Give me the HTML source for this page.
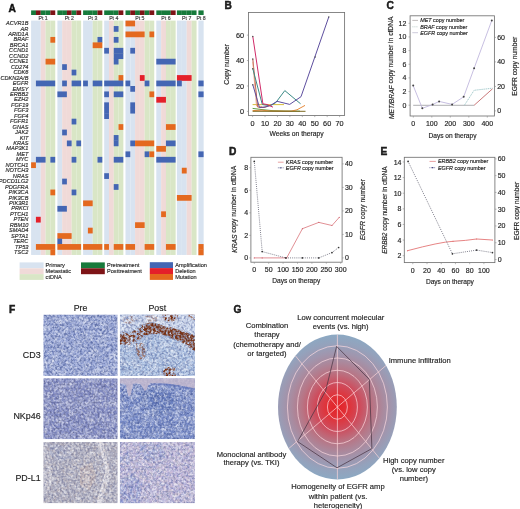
<!DOCTYPE html>
<html><head><meta charset="utf-8"><title>Figure</title>
<style>
html,body{margin:0;padding:0;background:#fff;}
body{width:520px;height:509px;overflow:hidden;}
svg{display:block;font-family:'Liberation Sans', Arial, sans-serif;}
text{stroke:#2a2a2a;stroke-width:0.16px;}
</style></head><body>
<svg width="520" height="509" viewBox="0 0 520 509">
<defs><filter id="fw1" filterUnits="userSpaceOnUse" x="0" y="290" width="215" height="219" color-interpolation-filters="sRGB"><feTurbulence type="fractalNoise" baseFrequency="0.42" numOctaves="2" seed="3" result="n"/><feColorMatrix in="n" type="matrix" values="0 0 0 0 1 0 0 0 0 1 0 0 0 0 1 3.0 0 0 0 -1.2" result="c"/><feGaussianBlur in="c" stdDeviation="0.35" result="cb"/><feComposite in="cb" in2="SourceGraphic" operator="in"/></filter><filter id="fw2" filterUnits="userSpaceOnUse" x="0" y="290" width="215" height="219" color-interpolation-filters="sRGB"><feTurbulence type="fractalNoise" baseFrequency="0.12" numOctaves="3" seed="11" result="n"/><feColorMatrix in="n" type="matrix" values="0 0 0 0 1 0 0 0 0 1 0 0 0 0 1 3.0 0 0 0 -1.3" result="c"/><feGaussianBlur in="c" stdDeviation="0.6" result="cb"/><feComposite in="cb" in2="SourceGraphic" operator="in"/></filter><filter id="fd1" filterUnits="userSpaceOnUse" x="0" y="290" width="215" height="219" color-interpolation-filters="sRGB"><feTurbulence type="fractalNoise" baseFrequency="0.45" numOctaves="2" seed="7" result="n"/><feColorMatrix in="n" type="matrix" values="0 0 0 0 0.2 0 0 0 0 0.27 0 0 0 0 0.52 3.0 0 0 0 -1.3" result="c"/><feGaussianBlur in="c" stdDeviation="0.35" result="cb"/><feComposite in="cb" in2="SourceGraphic" operator="in"/></filter><filter id="fd2" filterUnits="userSpaceOnUse" x="0" y="290" width="215" height="219" color-interpolation-filters="sRGB"><feTurbulence type="fractalNoise" baseFrequency="0.15" numOctaves="3" seed="19" result="n"/><feColorMatrix in="n" type="matrix" values="0 0 0 0 0.3 0 0 0 0 0.36 0 0 0 0 0.6 3.0 0 0 0 -1.35" result="c"/><feGaussianBlur in="c" stdDeviation="0.6" result="cb"/><feComposite in="cb" in2="SourceGraphic" operator="in"/></filter><filter id="fd3" filterUnits="userSpaceOnUse" x="0" y="290" width="215" height="219" color-interpolation-filters="sRGB"><feTurbulence type="fractalNoise" baseFrequency="0.5" numOctaves="2" seed="29" result="n"/><feColorMatrix in="n" type="matrix" values="0 0 0 0 0.3 0 0 0 0 0.32 0 0 0 0 0.5 3.0 0 0 0 -1.3" result="c"/><feGaussianBlur in="c" stdDeviation="0.35" result="cb"/><feComposite in="cb" in2="SourceGraphic" operator="in"/></filter><filter id="fb1" filterUnits="userSpaceOnUse" x="0" y="290" width="215" height="219" color-interpolation-filters="sRGB"><feTurbulence type="fractalNoise" baseFrequency="0.45" numOctaves="2" seed="23" result="n"/><feColorMatrix in="n" type="matrix" values="0 0 0 0 0.47 0 0 0 0 0.18 0 0 0 0 0.06 3.2 0 0 0 -1.25" result="c"/><feGaussianBlur in="c" stdDeviation="0.3" result="cb"/><feComposite in="cb" in2="SourceGraphic" operator="in"/></filter><filter id="fb2" filterUnits="userSpaceOnUse" x="0" y="290" width="215" height="219" color-interpolation-filters="sRGB"><feTurbulence type="fractalNoise" baseFrequency="0.5" numOctaves="2" seed="37" result="n"/><feColorMatrix in="n" type="matrix" values="0 0 0 0 0.45 0 0 0 0 0.17 0 0 0 0 0.05 3.2 0 0 0 -1.2" result="c"/><feGaussianBlur in="c" stdDeviation="0.3" result="cb"/><feComposite in="cb" in2="SourceGraphic" operator="in"/></filter><filter id="ft1" filterUnits="userSpaceOnUse" x="0" y="290" width="215" height="219" color-interpolation-filters="sRGB"><feTurbulence type="fractalNoise" baseFrequency="0.3" numOctaves="2" seed="31" result="n"/><feColorMatrix in="n" type="matrix" values="0 0 0 0 0.76 0 0 0 0 0.7 0 0 0 0 0.68 3.0 0 0 0 -1.25" result="c"/><feGaussianBlur in="c" stdDeviation="0.5" result="cb"/><feComposite in="cb" in2="SourceGraphic" operator="in"/></filter><filter id="fp1" filterUnits="userSpaceOnUse" x="0" y="290" width="215" height="219" color-interpolation-filters="sRGB"><feTurbulence type="fractalNoise" baseFrequency="0.3" numOctaves="2" seed="41" result="n"/><feColorMatrix in="n" type="matrix" values="0 0 0 0 0.85 0 0 0 0 0.75 0 0 0 0 0.85 3.0 0 0 0 -1.2" result="c"/><feGaussianBlur in="c" stdDeviation="0.5" result="cb"/><feComposite in="cb" in2="SourceGraphic" operator="in"/></filter></defs>
<rect width="520" height="509" fill="#fff"/>
<g id="panelA">
<text x="8.6" y="11.6" font-size="10.2" font-weight="bold" fill="#111" style="stroke:#111;stroke-width:0.45px">A</text>
<rect x="31.1" y="20.6" width="4.87" height="234.35" fill="#d8e3f0"/>
<rect x="31.1" y="10.4" width="4.87" height="4.6" fill="#177a3b"/>
<rect x="35.92" y="20.6" width="4.87" height="234.35" fill="#d8e3f0"/>
<rect x="35.92" y="10.4" width="4.87" height="4.6" fill="#7e1417"/>
<rect x="40.74" y="20.6" width="4.87" height="234.35" fill="#f0dad8"/>
<rect x="40.74" y="10.4" width="4.87" height="4.6" fill="#177a3b"/>
<rect x="45.56" y="20.6" width="4.87" height="234.35" fill="#d9e6c6"/>
<rect x="45.56" y="10.4" width="4.87" height="4.6" fill="#177a3b"/>
<rect x="50.38" y="20.6" width="4.87" height="234.35" fill="#d9e6c6"/>
<rect x="50.38" y="10.4" width="4.87" height="4.6" fill="#7e1417"/>
<text x="43.15" y="20.4" font-size="5.2" fill="#555" text-anchor="middle">Pt 1</text>
<rect x="57.4" y="20.6" width="4.79" height="234.35" fill="#d8e3f0"/>
<rect x="57.4" y="10.4" width="4.79" height="4.6" fill="#177a3b"/>
<rect x="62.14" y="20.6" width="4.79" height="234.35" fill="#f0dad8"/>
<rect x="62.14" y="10.4" width="4.79" height="4.6" fill="#177a3b"/>
<rect x="66.88" y="20.6" width="4.79" height="234.35" fill="#f0dad8"/>
<rect x="66.88" y="10.4" width="4.79" height="4.6" fill="#7e1417"/>
<rect x="71.62" y="20.6" width="4.79" height="234.35" fill="#d9e6c6"/>
<rect x="71.62" y="10.4" width="4.79" height="4.6" fill="#177a3b"/>
<rect x="76.36" y="20.6" width="4.79" height="234.35" fill="#d9e6c6"/>
<rect x="76.36" y="10.4" width="4.79" height="4.6" fill="#7e1417"/>
<text x="69.25" y="20.4" font-size="5.2" fill="#555" text-anchor="middle">Pt 2</text>
<rect x="83.1" y="20.6" width="4.85" height="234.35" fill="#d8e3f0"/>
<rect x="83.1" y="10.4" width="4.85" height="4.6" fill="#177a3b"/>
<rect x="87.9" y="20.6" width="4.85" height="234.35" fill="#d8e3f0"/>
<rect x="87.9" y="10.4" width="4.85" height="4.6" fill="#177a3b"/>
<rect x="92.7" y="20.6" width="4.85" height="234.35" fill="#d9e6c6"/>
<rect x="92.7" y="10.4" width="4.85" height="4.6" fill="#177a3b"/>
<rect x="97.5" y="20.6" width="4.85" height="234.35" fill="#d9e6c6"/>
<rect x="97.5" y="10.4" width="4.85" height="4.6" fill="#7e1417"/>
<text x="92.7" y="20.4" font-size="5.2" fill="#555" text-anchor="middle">Pt 3</text>
<rect x="104.2" y="20.6" width="4.82" height="234.35" fill="#d8e3f0"/>
<rect x="104.2" y="10.4" width="4.82" height="4.6" fill="#177a3b"/>
<rect x="108.97" y="20.6" width="4.82" height="234.35" fill="#f0dad8"/>
<rect x="108.97" y="10.4" width="4.82" height="4.6" fill="#177a3b"/>
<rect x="113.75" y="20.6" width="4.82" height="234.35" fill="#d9e6c6"/>
<rect x="113.75" y="10.4" width="4.82" height="4.6" fill="#177a3b"/>
<rect x="118.53" y="20.6" width="4.82" height="234.35" fill="#d9e6c6"/>
<rect x="118.53" y="10.4" width="4.82" height="4.6" fill="#7e1417"/>
<text x="113.75" y="20.4" font-size="5.2" fill="#555" text-anchor="middle">Pt 4</text>
<rect x="125.5" y="20.6" width="4.83" height="234.35" fill="#d8e3f0"/>
<rect x="125.5" y="10.4" width="4.83" height="4.6" fill="#177a3b"/>
<rect x="130.28" y="20.6" width="4.83" height="234.35" fill="#d8e3f0"/>
<rect x="130.28" y="10.4" width="4.83" height="4.6" fill="#7e1417"/>
<rect x="135.07" y="20.6" width="4.83" height="234.35" fill="#f0dad8"/>
<rect x="135.07" y="10.4" width="4.83" height="4.6" fill="#177a3b"/>
<rect x="139.85" y="20.6" width="4.83" height="234.35" fill="#f0dad8"/>
<rect x="139.85" y="10.4" width="4.83" height="4.6" fill="#7e1417"/>
<rect x="144.63" y="20.6" width="4.83" height="234.35" fill="#d9e6c6"/>
<rect x="144.63" y="10.4" width="4.83" height="4.6" fill="#177a3b"/>
<rect x="149.42" y="20.6" width="4.83" height="234.35" fill="#d9e6c6"/>
<rect x="149.42" y="10.4" width="4.83" height="4.6" fill="#7e1417"/>
<text x="139.85" y="20.4" font-size="5.2" fill="#555" text-anchor="middle">Pt 5</text>
<rect x="156.3" y="20.6" width="4.87" height="234.35" fill="#d8e3f0"/>
<rect x="156.3" y="10.4" width="4.87" height="4.6" fill="#177a3b"/>
<rect x="161.12" y="20.6" width="4.87" height="234.35" fill="#f0dad8"/>
<rect x="161.12" y="10.4" width="4.87" height="4.6" fill="#177a3b"/>
<rect x="165.95" y="20.6" width="4.87" height="234.35" fill="#d9e6c6"/>
<rect x="165.95" y="10.4" width="4.87" height="4.6" fill="#177a3b"/>
<rect x="170.78" y="20.6" width="4.87" height="234.35" fill="#d9e6c6"/>
<rect x="170.78" y="10.4" width="4.87" height="4.6" fill="#7e1417"/>
<text x="165.95" y="20.4" font-size="5.2" fill="#555" text-anchor="middle">Pt 6</text>
<rect x="176.9" y="20.6" width="4.95" height="234.35" fill="#d8e3f0"/>
<rect x="176.9" y="10.4" width="4.95" height="4.6" fill="#177a3b"/>
<rect x="181.8" y="20.6" width="4.95" height="234.35" fill="#d8e3f0"/>
<rect x="181.8" y="10.4" width="4.95" height="4.6" fill="#177a3b"/>
<rect x="186.7" y="20.6" width="4.95" height="234.35" fill="#f0dad8"/>
<rect x="186.7" y="10.4" width="4.95" height="4.6" fill="#177a3b"/>
<rect x="191.6" y="20.6" width="4.95" height="234.35" fill="#d9e6c6"/>
<rect x="191.6" y="10.4" width="4.95" height="4.6" fill="#177a3b"/>
<text x="186.7" y="20.4" font-size="5.2" fill="#555" text-anchor="middle">Pt 7</text>
<rect x="198.4" y="20.6" width="5.25" height="234.35" fill="#d8e3f0"/>
<rect x="198.4" y="10.4" width="5.25" height="4.6" fill="#177a3b"/>
<text x="201" y="20.4" font-size="5.2" fill="#555" text-anchor="middle">Pt 8</text>
<rect x="125.5" y="20.6" width="9.57" height="5.75" fill="#e4691f"/>
<rect x="113.75" y="26.05" width="4.78" height="5.75" fill="#4466b3"/>
<rect x="125.5" y="31.5" width="19.13" height="5.75" fill="#e4691f"/>
<rect x="149.42" y="31.5" width="4.78" height="5.75" fill="#e4691f"/>
<rect x="50.38" y="36.95" width="4.82" height="5.75" fill="#e4691f"/>
<rect x="97.5" y="36.95" width="4.8" height="5.75" fill="#4466b3"/>
<rect x="113.75" y="36.95" width="4.78" height="5.75" fill="#4466b3"/>
<rect x="92.7" y="42.4" width="9.6" height="5.75" fill="#e4691f"/>
<rect x="104.2" y="47.85" width="4.77" height="5.75" fill="#4466b3"/>
<rect x="113.75" y="47.85" width="9.55" height="5.75" fill="#4466b3"/>
<rect x="130.28" y="47.85" width="4.78" height="5.75" fill="#4466b3"/>
<rect x="113.75" y="53.3" width="9.55" height="5.75" fill="#4466b3"/>
<rect x="45.56" y="58.75" width="9.64" height="5.75" fill="#e4691f"/>
<rect x="113.75" y="58.75" width="4.78" height="5.75" fill="#4466b3"/>
<rect x="156.3" y="58.75" width="19.3" height="5.75" fill="#4466b3"/>
<rect x="62.14" y="64.2" width="4.74" height="5.75" fill="#4466b3"/>
<rect x="71.62" y="69.65" width="4.74" height="5.75" fill="#4466b3"/>
<rect x="118.53" y="75.1" width="4.77" height="5.75" fill="#e4691f"/>
<rect x="139.85" y="75.1" width="4.78" height="5.75" fill="#e4202a"/>
<rect x="176.9" y="75.1" width="14.7" height="5.75" fill="#e4202a"/>
<rect x="35.92" y="80.55" width="19.28" height="5.75" fill="#4466b3"/>
<rect x="62.14" y="80.55" width="4.74" height="5.75" fill="#4466b3"/>
<rect x="71.62" y="80.55" width="9.48" height="5.75" fill="#4466b3"/>
<rect x="83.1" y="80.55" width="4.8" height="5.75" fill="#4466b3"/>
<rect x="92.7" y="80.55" width="9.6" height="5.75" fill="#4466b3"/>
<rect x="104.2" y="80.55" width="19.1" height="5.75" fill="#4466b3"/>
<rect x="125.5" y="80.55" width="4.78" height="5.75" fill="#4466b3"/>
<rect x="144.63" y="80.55" width="4.78" height="5.75" fill="#4466b3"/>
<rect x="156.3" y="80.55" width="19.3" height="5.75" fill="#4466b3"/>
<rect x="176.9" y="80.55" width="4.9" height="5.75" fill="#4466b3"/>
<rect x="198.4" y="80.55" width="5.2" height="5.75" fill="#4466b3"/>
<rect x="130.28" y="86" width="4.78" height="5.75" fill="#4466b3"/>
<rect x="57.4" y="91.45" width="9.48" height="5.75" fill="#4466b3"/>
<rect x="104.2" y="91.45" width="4.77" height="5.75" fill="#4466b3"/>
<rect x="113.75" y="91.45" width="9.55" height="5.75" fill="#4466b3"/>
<rect x="149.42" y="91.45" width="4.78" height="5.75" fill="#e4691f"/>
<rect x="198.4" y="91.45" width="5.2" height="5.75" fill="#4466b3"/>
<rect x="156.3" y="96.9" width="9.65" height="5.75" fill="#e4202a"/>
<rect x="104.2" y="102.35" width="4.77" height="5.75" fill="#4466b3"/>
<rect x="130.28" y="102.35" width="4.78" height="5.75" fill="#4466b3"/>
<rect x="104.2" y="107.8" width="4.77" height="5.75" fill="#4466b3"/>
<rect x="130.28" y="107.8" width="4.78" height="5.75" fill="#4466b3"/>
<rect x="104.2" y="113.25" width="4.77" height="5.75" fill="#4466b3"/>
<rect x="71.62" y="118.7" width="4.74" height="5.75" fill="#4466b3"/>
<rect x="118.53" y="124.15" width="4.77" height="5.75" fill="#e4691f"/>
<rect x="165.95" y="124.15" width="9.65" height="5.75" fill="#e4691f"/>
<rect x="62.14" y="129.6" width="4.74" height="5.75" fill="#4466b3"/>
<rect x="113.75" y="135.05" width="4.78" height="5.75" fill="#4466b3"/>
<rect x="66.88" y="140.5" width="4.74" height="5.75" fill="#4466b3"/>
<rect x="76.36" y="140.5" width="4.74" height="5.75" fill="#4466b3"/>
<rect x="113.75" y="140.5" width="4.78" height="5.75" fill="#4466b3"/>
<rect x="130.28" y="140.5" width="4.78" height="5.75" fill="#4466b3"/>
<rect x="135.07" y="140.5" width="19.13" height="5.75" fill="#e4691f"/>
<rect x="165.95" y="140.5" width="9.65" height="5.75" fill="#4466b3"/>
<rect x="156.3" y="145.95" width="9.65" height="5.75" fill="#e4691f"/>
<rect x="125.5" y="151.4" width="4.78" height="5.75" fill="#4466b3"/>
<rect x="144.63" y="151.4" width="4.78" height="5.75" fill="#4466b3"/>
<rect x="149.42" y="151.4" width="4.78" height="5.75" fill="#e4691f"/>
<rect x="198.4" y="151.4" width="5.2" height="5.75" fill="#4466b3"/>
<rect x="35.92" y="156.85" width="9.64" height="5.75" fill="#4466b3"/>
<rect x="50.38" y="156.85" width="4.82" height="5.75" fill="#4466b3"/>
<rect x="71.62" y="156.85" width="4.74" height="5.75" fill="#4466b3"/>
<rect x="97.5" y="156.85" width="4.8" height="5.75" fill="#4466b3"/>
<rect x="113.75" y="156.85" width="9.55" height="5.75" fill="#4466b3"/>
<rect x="156.3" y="156.85" width="19.3" height="5.75" fill="#4466b3"/>
<rect x="31.1" y="162.3" width="4.82" height="5.75" fill="#e4691f"/>
<rect x="181.8" y="167.75" width="4.9" height="5.75" fill="#e4691f"/>
<rect x="104.2" y="173.2" width="4.77" height="5.75" fill="#4466b3"/>
<rect x="62.14" y="178.65" width="4.74" height="5.75" fill="#4466b3"/>
<rect x="113.75" y="184.1" width="4.78" height="5.75" fill="#4466b3"/>
<rect x="50.38" y="189.55" width="4.82" height="5.75" fill="#e4691f"/>
<rect x="71.62" y="189.55" width="4.74" height="5.75" fill="#4466b3"/>
<rect x="176.9" y="195" width="14.7" height="5.75" fill="#e4691f"/>
<rect x="83.1" y="200.45" width="9.6" height="5.75" fill="#e4691f"/>
<rect x="57.4" y="205.9" width="9.48" height="5.75" fill="#4466b3"/>
<rect x="161.12" y="211.35" width="4.82" height="5.75" fill="#e4691f"/>
<rect x="35.92" y="216.8" width="4.82" height="5.75" fill="#e4202a"/>
<rect x="135.07" y="222.25" width="9.57" height="5.75" fill="#e4691f"/>
<rect x="87.9" y="227.7" width="4.8" height="5.75" fill="#e4691f"/>
<rect x="57.4" y="233.15" width="14.22" height="5.75" fill="#e4691f"/>
<rect x="57.4" y="238.6" width="4.74" height="5.75" fill="#4466b3"/>
<rect x="35.92" y="244.05" width="19.28" height="5.75" fill="#e4691f"/>
<rect x="57.4" y="244.05" width="23.7" height="5.75" fill="#e4691f"/>
<rect x="83.1" y="244.05" width="19.2" height="5.75" fill="#e4691f"/>
<rect x="104.2" y="244.05" width="4.77" height="5.75" fill="#e4691f"/>
<rect x="113.75" y="244.05" width="9.55" height="5.75" fill="#e4691f"/>
<rect x="125.5" y="244.05" width="9.57" height="5.75" fill="#e4691f"/>
<rect x="144.63" y="244.05" width="9.57" height="5.75" fill="#e4691f"/>
<rect x="165.95" y="244.05" width="9.65" height="5.75" fill="#e4691f"/>
<rect x="198.4" y="244.05" width="5.2" height="5.75" fill="#e4691f"/>
<rect x="50.38" y="249.5" width="4.82" height="5.75" fill="#e4691f"/>
<rect x="198.4" y="249.5" width="5.2" height="5.75" fill="#e4691f"/>
<text x="28.4" y="25.1" font-size="5.6" font-style="italic" fill="#333" text-anchor="end">ACVR1B</text>
<text x="28.4" y="30.55" font-size="5.6" font-style="italic" fill="#333" text-anchor="end">AR</text>
<text x="28.4" y="36" font-size="5.6" font-style="italic" fill="#333" text-anchor="end">ARID1A</text>
<text x="28.4" y="41.45" font-size="5.6" font-style="italic" fill="#333" text-anchor="end">BRAF</text>
<text x="28.4" y="46.9" font-size="5.6" font-style="italic" fill="#333" text-anchor="end">BRCA1</text>
<text x="28.4" y="52.35" font-size="5.6" font-style="italic" fill="#333" text-anchor="end">CCND1</text>
<text x="28.4" y="57.8" font-size="5.6" font-style="italic" fill="#333" text-anchor="end">CCND2</text>
<text x="28.4" y="63.25" font-size="5.6" font-style="italic" fill="#333" text-anchor="end">CCNE1</text>
<text x="28.4" y="68.7" font-size="5.6" font-style="italic" fill="#333" text-anchor="end">CD274</text>
<text x="28.4" y="74.15" font-size="5.6" font-style="italic" fill="#333" text-anchor="end">CDK6</text>
<text x="28.4" y="79.6" font-size="5.6" font-style="italic" fill="#333" text-anchor="end">CDKN2A/B</text>
<text x="28.4" y="85.05" font-size="5.6" font-style="italic" fill="#333" text-anchor="end">EGFR</text>
<text x="28.4" y="90.5" font-size="5.6" font-style="italic" fill="#333" text-anchor="end">EMSY</text>
<text x="28.4" y="95.95" font-size="5.6" font-style="italic" fill="#333" text-anchor="end">ERBB2</text>
<text x="28.4" y="101.4" font-size="5.6" font-style="italic" fill="#333" text-anchor="end">EZH2</text>
<text x="28.4" y="106.85" font-size="5.6" font-style="italic" fill="#333" text-anchor="end">FGF19</text>
<text x="28.4" y="112.3" font-size="5.6" font-style="italic" fill="#333" text-anchor="end">FGF3</text>
<text x="28.4" y="117.75" font-size="5.6" font-style="italic" fill="#333" text-anchor="end">FGF4</text>
<text x="28.4" y="123.2" font-size="5.6" font-style="italic" fill="#333" text-anchor="end">FGFR1</text>
<text x="28.4" y="128.65" font-size="5.6" font-style="italic" fill="#333" text-anchor="end">GNAS</text>
<text x="28.4" y="134.1" font-size="5.6" font-style="italic" fill="#333" text-anchor="end">JAK2</text>
<text x="28.4" y="139.55" font-size="5.6" font-style="italic" fill="#333" text-anchor="end">KIT</text>
<text x="28.4" y="145" font-size="5.6" font-style="italic" fill="#333" text-anchor="end">KRAS</text>
<text x="28.4" y="150.45" font-size="5.6" font-style="italic" fill="#333" text-anchor="end">MAP3K1</text>
<text x="28.4" y="155.9" font-size="5.6" font-style="italic" fill="#333" text-anchor="end">MET</text>
<text x="28.4" y="161.35" font-size="5.6" font-style="italic" fill="#333" text-anchor="end">MYC</text>
<text x="28.4" y="166.8" font-size="5.6" font-style="italic" fill="#333" text-anchor="end">NOTCH1</text>
<text x="28.4" y="172.25" font-size="5.6" font-style="italic" fill="#333" text-anchor="end">NOTCH3</text>
<text x="28.4" y="177.7" font-size="5.6" font-style="italic" fill="#333" text-anchor="end">NRAS</text>
<text x="28.4" y="183.15" font-size="5.6" font-style="italic" fill="#333" text-anchor="end">PDCD1LG2</text>
<text x="28.4" y="188.6" font-size="5.6" font-style="italic" fill="#333" text-anchor="end">PDGFRA</text>
<text x="28.4" y="194.05" font-size="5.6" font-style="italic" fill="#333" text-anchor="end">PIK3CA</text>
<text x="28.4" y="199.5" font-size="5.6" font-style="italic" fill="#333" text-anchor="end">PIK3CB</text>
<text x="28.4" y="204.95" font-size="5.6" font-style="italic" fill="#333" text-anchor="end">PIK3R1</text>
<text x="28.4" y="210.4" font-size="5.6" font-style="italic" fill="#333" text-anchor="end">PRKCI</text>
<text x="28.4" y="215.85" font-size="5.6" font-style="italic" fill="#333" text-anchor="end">PTCH1</text>
<text x="28.4" y="221.3" font-size="5.6" font-style="italic" fill="#333" text-anchor="end">PTEN</text>
<text x="28.4" y="226.75" font-size="5.6" font-style="italic" fill="#333" text-anchor="end">RBM10</text>
<text x="28.4" y="232.2" font-size="5.6" font-style="italic" fill="#333" text-anchor="end">SMAD4</text>
<text x="28.4" y="237.65" font-size="5.6" font-style="italic" fill="#333" text-anchor="end">SPTA1</text>
<text x="28.4" y="243.1" font-size="5.6" font-style="italic" fill="#333" text-anchor="end">TERC</text>
<text x="28.4" y="248.55" font-size="5.6" font-style="italic" fill="#333" text-anchor="end">TP53</text>
<text x="28.4" y="254" font-size="5.6" font-style="italic" fill="#333" text-anchor="end">TSC2</text>
<rect x="19.6" y="262.4" width="24" height="5.9" fill="#d8e3f0"/>
<rect x="19.6" y="268.3" width="24" height="5.8" fill="#f0dad8"/>
<rect x="19.6" y="274.1" width="24" height="5.8" fill="#d9e6c6"/>
<rect x="81" y="262.4" width="23.8" height="5.9" fill="#177a3b"/>
<rect x="81" y="268.3" width="23.8" height="5.9" fill="#7e1417"/>
<rect x="149.8" y="262.2" width="23.2" height="5.9" fill="#4466b3"/>
<rect x="149.8" y="268.1" width="23.2" height="5.9" fill="#e4202a"/>
<rect x="149.8" y="274" width="23.2" height="5.9" fill="#e4691f"/>
<text x="45.6" y="267.4" font-size="5.6" fill="#333">Primary</text>
<text x="45.6" y="273.2" font-size="5.6" fill="#333">Metastatic</text>
<text x="45.6" y="279.0" font-size="5.6" fill="#333">ctDNA</text>
<text x="107" y="267.4" font-size="5.6" fill="#333">Pretreatment</text>
<text x="107" y="273.2" font-size="5.6" fill="#333">Posttreatment</text>
<text x="175.2" y="267.4" font-size="5.6" fill="#333">Amplification</text>
<text x="175.2" y="273.2" font-size="5.6" fill="#333">Deletion</text>
<text x="175.2" y="279.0" font-size="5.6" fill="#333">Mutation</text>
</g>
<g id="panelB">
<text x="224.4" y="9.3" font-size="10.2" fill="#222" text-anchor="start" font-weight="bold" fill="#111" style="stroke:#111;stroke-width:0.45px">B</text>
<rect x="248.5" y="12.5" width="96.1" height="103" fill="none" stroke="#727272" stroke-width="0.85"/>
<line x1="246.9" y1="111.4" x2="248.5" y2="111.4" stroke="#8a8a8a" stroke-width="0.6"/>
<text x="244.1" y="114.03" font-size="7.3" fill="#222" text-anchor="end" >0</text>
<line x1="246.9" y1="85.97" x2="248.5" y2="85.97" stroke="#8a8a8a" stroke-width="0.6"/>
<text x="244.1" y="88.6" font-size="7.3" fill="#222" text-anchor="end" >20</text>
<line x1="246.9" y1="60.54" x2="248.5" y2="60.54" stroke="#8a8a8a" stroke-width="0.6"/>
<text x="244.1" y="63.17" font-size="7.3" fill="#222" text-anchor="end" >40</text>
<line x1="246.9" y1="35.11" x2="248.5" y2="35.11" stroke="#8a8a8a" stroke-width="0.6"/>
<text x="244.1" y="37.74" font-size="7.3" fill="#222" text-anchor="end" >60</text>
<line x1="252.6" y1="115.5" x2="252.6" y2="117.1" stroke="#8a8a8a" stroke-width="0.6"/>
<text x="252.6" y="125.9" font-size="7.3" fill="#222" text-anchor="middle" >0</text>
<line x1="265.03" y1="115.5" x2="265.03" y2="117.1" stroke="#8a8a8a" stroke-width="0.6"/>
<text x="265.03" y="125.9" font-size="7.3" fill="#222" text-anchor="middle" >10</text>
<line x1="277.46" y1="115.5" x2="277.46" y2="117.1" stroke="#8a8a8a" stroke-width="0.6"/>
<text x="277.46" y="125.9" font-size="7.3" fill="#222" text-anchor="middle" >20</text>
<line x1="289.89" y1="115.5" x2="289.89" y2="117.1" stroke="#8a8a8a" stroke-width="0.6"/>
<text x="289.89" y="125.9" font-size="7.3" fill="#222" text-anchor="middle" >30</text>
<line x1="302.32" y1="115.5" x2="302.32" y2="117.1" stroke="#8a8a8a" stroke-width="0.6"/>
<text x="302.32" y="125.9" font-size="7.3" fill="#222" text-anchor="middle" >40</text>
<line x1="314.75" y1="115.5" x2="314.75" y2="117.1" stroke="#8a8a8a" stroke-width="0.6"/>
<text x="314.75" y="125.9" font-size="7.3" fill="#222" text-anchor="middle" >50</text>
<line x1="327.18" y1="115.5" x2="327.18" y2="117.1" stroke="#8a8a8a" stroke-width="0.6"/>
<text x="327.18" y="125.9" font-size="7.3" fill="#222" text-anchor="middle" >60</text>
<line x1="339.61" y1="115.5" x2="339.61" y2="117.1" stroke="#8a8a8a" stroke-width="0.6"/>
<text x="339.61" y="125.9" font-size="7.3" fill="#222" text-anchor="middle" >70</text>
<text x="296.6" y="135.9" font-size="6.75" fill="#222" text-anchor="middle" >Weeks on therapy</text>
<text x="226.9" y="64.3" font-size="6.8" fill="#222" text-anchor="middle" dominant-baseline="central" transform="rotate(-90 226.9 64.3)">Copy number</text>
<polyline points="252.6,108.4 262,109.6 272,110.6 285,111 300,111.2" fill="none" stroke="#5f9a44" stroke-width="1.0" stroke-linejoin="round" stroke-linecap="butt"/>
<polyline points="252.6,104.6 284,104.6" fill="none" stroke="#d8be3c" stroke-width="1.0" stroke-linejoin="round" stroke-linecap="butt"/>
<polyline points="252.6,110.6 262,110.2 270,111 291,111.2 297,109.8 305,105.4" fill="none" stroke="#e58a3c" stroke-width="1.0" stroke-linejoin="round" stroke-linecap="butt"/>
<polyline points="252.6,111.3 305.5,111.3" fill="none" stroke="#7d6a22" stroke-width="1.0" stroke-linejoin="round" stroke-linecap="butt"/>
<polyline points="252.8,59 257.6,107 264,107.5 270,105.5" fill="none" stroke="#b4584a" stroke-width="1.0" stroke-linejoin="round" stroke-linecap="butt"/>
<polyline points="252.8,62 256.5,106 262,106.5" fill="none" stroke="#e99a7a" stroke-width="0.8" stroke-linejoin="round" stroke-linecap="butt"/>
<polyline points="252.8,68.7 262.3,104.5 270.2,105.8 275.8,102.6 284.8,90.6 300.6,103.8" fill="none" stroke="#3b8b87" stroke-width="1.0" stroke-linejoin="round" stroke-linecap="butt"/>
<polyline points="252.8,84.8 259.5,107.6 266,106.8 271.2,105 277,101.3 289.7,104.4 301,96.7 328.8,16.9" fill="none" stroke="#5e4f9f" stroke-width="1.0" stroke-linejoin="round" stroke-linecap="butt"/>
<polyline points="252.8,36.5 262.9,103.8 267,104.5 273,107.2" fill="none" stroke="#d02b68" stroke-width="1.0" stroke-linejoin="round" stroke-linecap="butt"/>
<circle cx="252.8" cy="36.5" r="0.7" fill="#444"/>
<circle cx="252.8" cy="59" r="0.7" fill="#444"/>
<circle cx="252.8" cy="68.7" r="0.7" fill="#444"/>
<circle cx="252.8" cy="84.8" r="0.7" fill="#444"/>
<circle cx="328.8" cy="16.9" r="0.7" fill="#444"/>
<circle cx="315.2" cy="57" r="0.7" fill="#444"/>
</g>
<g id="panelC">
<text x="386.5" y="9.1" font-size="10.2" fill="#222" text-anchor="start" font-weight="bold" fill="#111" style="stroke:#111;stroke-width:0.45px">C</text>
<rect x="410.1" y="15.8" width="84.3" height="100.2" fill="none" stroke="#727272" stroke-width="0.85"/>
<line x1="408.5" y1="105.2" x2="410.1" y2="105.2" stroke="#8a8a8a" stroke-width="0.6"/>
<text x="406.4" y="107.72" font-size="7.0" fill="#222" text-anchor="end" >0</text>
<line x1="408.5" y1="91.55" x2="410.1" y2="91.55" stroke="#8a8a8a" stroke-width="0.6"/>
<text x="406.4" y="94.07" font-size="7.0" fill="#222" text-anchor="end" >2</text>
<line x1="408.5" y1="77.9" x2="410.1" y2="77.9" stroke="#8a8a8a" stroke-width="0.6"/>
<text x="406.4" y="80.42" font-size="7.0" fill="#222" text-anchor="end" >4</text>
<line x1="408.5" y1="64.25" x2="410.1" y2="64.25" stroke="#8a8a8a" stroke-width="0.6"/>
<text x="406.4" y="66.77" font-size="7.0" fill="#222" text-anchor="end" >6</text>
<line x1="408.5" y1="50.6" x2="410.1" y2="50.6" stroke="#8a8a8a" stroke-width="0.6"/>
<text x="406.4" y="53.12" font-size="7.0" fill="#222" text-anchor="end" >8</text>
<line x1="408.5" y1="36.95" x2="410.1" y2="36.95" stroke="#8a8a8a" stroke-width="0.6"/>
<text x="406.4" y="39.47" font-size="7.0" fill="#222" text-anchor="end" >10</text>
<line x1="408.5" y1="23.3" x2="410.1" y2="23.3" stroke="#8a8a8a" stroke-width="0.6"/>
<text x="406.4" y="25.82" font-size="7.0" fill="#222" text-anchor="end" >12</text>
<line x1="494.4" y1="110.9" x2="496" y2="110.9" stroke="#8a8a8a" stroke-width="0.6"/>
<text x="497.2" y="113.42" font-size="7.0" fill="#222" text-anchor="start" >0</text>
<line x1="494.4" y1="86.4" x2="496" y2="86.4" stroke="#8a8a8a" stroke-width="0.6"/>
<text x="497.2" y="88.92" font-size="7.0" fill="#222" text-anchor="start" >20</text>
<line x1="494.4" y1="61.9" x2="496" y2="61.9" stroke="#8a8a8a" stroke-width="0.6"/>
<text x="497.2" y="64.42" font-size="7.0" fill="#222" text-anchor="start" >40</text>
<line x1="494.4" y1="37.4" x2="496" y2="37.4" stroke="#8a8a8a" stroke-width="0.6"/>
<text x="497.2" y="39.92" font-size="7.0" fill="#222" text-anchor="start" >60</text>
<line x1="413.3" y1="116" x2="413.3" y2="117.6" stroke="#8a8a8a" stroke-width="0.6"/>
<text x="413.3" y="126.2" font-size="7.0" fill="#222" text-anchor="middle" >0</text>
<line x1="431.8" y1="116" x2="431.8" y2="117.6" stroke="#8a8a8a" stroke-width="0.6"/>
<text x="431.8" y="126.2" font-size="7.0" fill="#222" text-anchor="middle" >100</text>
<line x1="450.3" y1="116" x2="450.3" y2="117.6" stroke="#8a8a8a" stroke-width="0.6"/>
<text x="450.3" y="126.2" font-size="7.0" fill="#222" text-anchor="middle" >200</text>
<line x1="468.8" y1="116" x2="468.8" y2="117.6" stroke="#8a8a8a" stroke-width="0.6"/>
<text x="468.8" y="126.2" font-size="7.0" fill="#222" text-anchor="middle" >300</text>
<line x1="487.3" y1="116" x2="487.3" y2="117.6" stroke="#8a8a8a" stroke-width="0.6"/>
<text x="487.3" y="126.2" font-size="7.0" fill="#222" text-anchor="middle" >400</text>
<text x="452.5" y="137.9" font-size="6.6" fill="#222" text-anchor="middle" >Days on therapy</text>
<text x="390.8" y="67.8" font-size="6.7" fill="#222" text-anchor="middle" dominant-baseline="central" transform="rotate(-90 390.8 67.8)"><tspan font-style="italic">MET/BRAF</tspan> copy number in cfDNA</text>
<text x="514.8" y="66.2" font-size="6.7" fill="#222" text-anchor="middle" dominant-baseline="central" transform="rotate(-90 514.8 66.2)">EGFR copy number</text>
<polyline points="412.3,20.4 418,20.4" fill="none" stroke="#a8a0a0" stroke-width="0.7" stroke-linejoin="round" stroke-linecap="butt"/>
<polyline points="412.3,26.8 418,26.8" fill="none" stroke="#b0c4c0" stroke-width="0.7" stroke-dasharray="1.2,0.8" stroke-linejoin="round" stroke-linecap="butt"/>
<polyline points="412.3,32.7 418,32.7" fill="none" stroke="#b8b4cc" stroke-width="0.7" stroke-linejoin="round" stroke-linecap="butt"/>
<text x="420.2" y="22.3" font-size="5.4" fill="#222"><tspan font-style="italic">MET</tspan> copy number</text>
<text x="420.2" y="28.7" font-size="5.4" fill="#222"><tspan font-style="italic">BRAF</tspan> copy number</text>
<text x="420.2" y="34.6" font-size="5.4" fill="#222"><tspan font-style="italic">EGFR</tspan> copy number</text>
<polyline points="413.2,105.3 474.1,105.3" fill="none" stroke="#9a9a9e" stroke-width="0.8" stroke-linejoin="round" stroke-linecap="butt"/>
<polyline points="474.1,105.3 492.5,88.8" fill="none" stroke="#c06062" stroke-width="0.85" stroke-linejoin="round" stroke-linecap="butt"/>
<polyline points="464.4,105.3 474.1,90.3 492.5,88.2" fill="none" stroke="#96c2c4" stroke-width="0.85" stroke-dasharray="1.4,0.7" stroke-linejoin="round" stroke-linecap="butt"/>
<polyline points="413.2,85.6 422.3,108.3 432.6,104.6 439.1,101.4 452.1,104.4 463.7,96.8 474.1,68.3 491.8,20.4" fill="none" stroke="#bdb3dc" stroke-width="0.85" stroke-linejoin="round" stroke-linecap="butt"/>
<circle cx="413.2" cy="85.6" r="1.0" fill="#444"/>
<circle cx="422.3" cy="108.3" r="1.0" fill="#444"/>
<circle cx="432.6" cy="104.6" r="1.0" fill="#444"/>
<circle cx="439.1" cy="101.4" r="1.0" fill="#444"/>
<circle cx="452.1" cy="104.4" r="1.0" fill="#444"/>
<circle cx="463.7" cy="96.8" r="1.0" fill="#444"/>
<circle cx="474.1" cy="68.3" r="1.0" fill="#444"/>
<circle cx="491.8" cy="20.4" r="1.0" fill="#444"/>
</g>
<g id="panelD">
<text x="229" y="155.3" font-size="10.2" fill="#222" text-anchor="start" font-weight="bold" fill="#111" style="stroke:#111;stroke-width:0.45px">D</text>
<rect x="250.9" y="157.3" width="91.2" height="104.9" fill="none" stroke="#727272" stroke-width="0.85"/>
<line x1="249.3" y1="257.9" x2="250.9" y2="257.9" stroke="#8a8a8a" stroke-width="0.6"/>
<text x="248.1" y="260.42" font-size="7.0" fill="#222" text-anchor="end" >0</text>
<line x1="249.3" y1="235.35" x2="250.9" y2="235.35" stroke="#8a8a8a" stroke-width="0.6"/>
<text x="248.1" y="237.87" font-size="7.0" fill="#222" text-anchor="end" >2</text>
<line x1="249.3" y1="212.8" x2="250.9" y2="212.8" stroke="#8a8a8a" stroke-width="0.6"/>
<text x="248.1" y="215.32" font-size="7.0" fill="#222" text-anchor="end" >4</text>
<line x1="249.3" y1="190.25" x2="250.9" y2="190.25" stroke="#8a8a8a" stroke-width="0.6"/>
<text x="248.1" y="192.77" font-size="7.0" fill="#222" text-anchor="end" >6</text>
<line x1="249.3" y1="167.7" x2="250.9" y2="167.7" stroke="#8a8a8a" stroke-width="0.6"/>
<text x="248.1" y="170.22" font-size="7.0" fill="#222" text-anchor="end" >8</text>
<line x1="342.1" y1="257.9" x2="343.7" y2="257.9" stroke="#8a8a8a" stroke-width="0.6"/>
<text x="344.9" y="260.42" font-size="7.0" fill="#222" text-anchor="start" >0</text>
<line x1="342.1" y1="234.4" x2="343.7" y2="234.4" stroke="#8a8a8a" stroke-width="0.6"/>
<text x="344.9" y="236.92" font-size="7.0" fill="#222" text-anchor="start" >10</text>
<line x1="342.1" y1="210.9" x2="343.7" y2="210.9" stroke="#8a8a8a" stroke-width="0.6"/>
<text x="344.9" y="213.42" font-size="7.0" fill="#222" text-anchor="start" >20</text>
<line x1="342.1" y1="187.4" x2="343.7" y2="187.4" stroke="#8a8a8a" stroke-width="0.6"/>
<text x="344.9" y="189.92" font-size="7.0" fill="#222" text-anchor="start" >30</text>
<line x1="342.1" y1="163.9" x2="343.7" y2="163.9" stroke="#8a8a8a" stroke-width="0.6"/>
<text x="344.9" y="166.42" font-size="7.0" fill="#222" text-anchor="start" >40</text>
<line x1="254.3" y1="262.2" x2="254.3" y2="263.8" stroke="#8a8a8a" stroke-width="0.6"/>
<text x="254.3" y="272.1" font-size="7.0" fill="#222" text-anchor="middle" >0</text>
<line x1="268.7" y1="262.2" x2="268.7" y2="263.8" stroke="#8a8a8a" stroke-width="0.6"/>
<text x="268.7" y="272.1" font-size="7.0" fill="#222" text-anchor="middle" >50</text>
<line x1="283.1" y1="262.2" x2="283.1" y2="263.8" stroke="#8a8a8a" stroke-width="0.6"/>
<text x="283.1" y="272.1" font-size="7.0" fill="#222" text-anchor="middle" >100</text>
<line x1="297.5" y1="262.2" x2="297.5" y2="263.8" stroke="#8a8a8a" stroke-width="0.6"/>
<text x="297.5" y="272.1" font-size="7.0" fill="#222" text-anchor="middle" >150</text>
<line x1="311.9" y1="262.2" x2="311.9" y2="263.8" stroke="#8a8a8a" stroke-width="0.6"/>
<text x="311.9" y="272.1" font-size="7.0" fill="#222" text-anchor="middle" >200</text>
<line x1="326.3" y1="262.2" x2="326.3" y2="263.8" stroke="#8a8a8a" stroke-width="0.6"/>
<text x="326.3" y="272.1" font-size="7.0" fill="#222" text-anchor="middle" >250</text>
<line x1="340.7" y1="262.2" x2="340.7" y2="263.8" stroke="#8a8a8a" stroke-width="0.6"/>
<text x="340.7" y="272.1" font-size="7.0" fill="#222" text-anchor="middle" >300</text>
<text x="296.25" y="283.2" font-size="6.6" fill="#222" text-anchor="middle" >Days on therapy</text>
<text x="234" y="209.3" font-size="6.7" fill="#222" text-anchor="middle" dominant-baseline="central" transform="rotate(-90 234 209.3)"><tspan font-style="italic">KRAS</tspan> copy number in cfDNA</text>
<text x="362.4" y="209.7" font-size="6.95" fill="#222" text-anchor="middle" dominant-baseline="central" transform="rotate(-90 362.4 209.7)"><tspan font-style="italic">EGFR</tspan> copy number</text>
<polyline points="277.9,162.2 283.6,162.2" fill="none" stroke="#e07878" stroke-width="0.7" stroke-linejoin="round" stroke-linecap="butt"/>
<polyline points="277.9,167.8 283.6,167.8" fill="none" stroke="#2f3070" stroke-width="0.7" stroke-dasharray="0.8,0.8" stroke-linejoin="round" stroke-linecap="butt"/>
<circle cx="280.7" cy="167.8" r="0.6" fill="#2f3070"/>
<text x="285.8" y="164.1" font-size="5.4" fill="#222"><tspan font-style="italic">KRAS</tspan> copy number</text>
<text x="285.8" y="169.7" font-size="5.4" fill="#222"><tspan font-style="italic">EGFR</tspan> copy number</text>
<polyline points="254.3,257.9 262.2,257.9 286.7,257.9 302.4,228.7 318.8,222.4 332,225.5 339.2,217.4" fill="none" stroke="#dc7c82" stroke-width="0.85" stroke-linejoin="round" stroke-linecap="butt"/>
<circle cx="254.3" cy="257.9" r="0.6" fill="#d06470"/>
<circle cx="262.2" cy="257.9" r="0.6" fill="#d06470"/>
<circle cx="286.7" cy="257.9" r="0.6" fill="#d06470"/>
<circle cx="302.4" cy="228.7" r="0.6" fill="#d06470"/>
<circle cx="318.8" cy="222.4" r="0.6" fill="#d06470"/>
<circle cx="332" cy="225.5" r="0.6" fill="#d06470"/>
<circle cx="339.2" cy="217.4" r="0.6" fill="#d06470"/>
<polyline points="254.3,161.4 262.2,251.6 285.8,257.9 302.4,257.9 318.8,257.9 332,252.6 338.6,247.5" fill="none" stroke="#5a5a6a" stroke-width="0.85" stroke-dasharray="0.1,2.0" stroke-linejoin="round" stroke-linecap="round"/>
<circle cx="254.3" cy="161.4" r="0.85" fill="#333"/>
<circle cx="262.2" cy="251.6" r="0.85" fill="#333"/>
<circle cx="285.8" cy="257.9" r="0.85" fill="#333"/>
<circle cx="302.4" cy="257.9" r="0.85" fill="#333"/>
<circle cx="318.8" cy="257.9" r="0.85" fill="#333"/>
<circle cx="332" cy="252.6" r="0.85" fill="#333"/>
<circle cx="338.6" cy="247.5" r="0.85" fill="#333"/>
</g>
<g id="panelE">
<text x="380.6" y="155.2" font-size="10.2" fill="#222" text-anchor="start" font-weight="bold" fill="#111" style="stroke:#111;stroke-width:0.45px">E</text>
<rect x="404.3" y="157.3" width="90.6" height="105.3" fill="none" stroke="#727272" stroke-width="0.85"/>
<line x1="402.7" y1="255.7" x2="404.3" y2="255.7" stroke="#8a8a8a" stroke-width="0.6"/>
<text x="401.5" y="258.22" font-size="7.0" fill="#222" text-anchor="end" >2</text>
<line x1="402.7" y1="240.08" x2="404.3" y2="240.08" stroke="#8a8a8a" stroke-width="0.6"/>
<text x="401.5" y="242.6" font-size="7.0" fill="#222" text-anchor="end" >4</text>
<line x1="402.7" y1="224.46" x2="404.3" y2="224.46" stroke="#8a8a8a" stroke-width="0.6"/>
<text x="401.5" y="226.98" font-size="7.0" fill="#222" text-anchor="end" >6</text>
<line x1="402.7" y1="208.84" x2="404.3" y2="208.84" stroke="#8a8a8a" stroke-width="0.6"/>
<text x="401.5" y="211.36" font-size="7.0" fill="#222" text-anchor="end" >8</text>
<line x1="402.7" y1="193.22" x2="404.3" y2="193.22" stroke="#8a8a8a" stroke-width="0.6"/>
<text x="401.5" y="195.74" font-size="7.0" fill="#222" text-anchor="end" >10</text>
<line x1="402.7" y1="177.6" x2="404.3" y2="177.6" stroke="#8a8a8a" stroke-width="0.6"/>
<text x="401.5" y="180.12" font-size="7.0" fill="#222" text-anchor="end" >12</text>
<line x1="402.7" y1="161.98" x2="404.3" y2="161.98" stroke="#8a8a8a" stroke-width="0.6"/>
<text x="401.5" y="164.5" font-size="7.0" fill="#222" text-anchor="end" >14</text>
<line x1="494.9" y1="259.5" x2="496.5" y2="259.5" stroke="#8a8a8a" stroke-width="0.6"/>
<text x="497.7" y="262.02" font-size="7.0" fill="#222" text-anchor="start" >0</text>
<line x1="494.9" y1="242.73" x2="496.5" y2="242.73" stroke="#8a8a8a" stroke-width="0.6"/>
<text x="497.7" y="245.25" font-size="7.0" fill="#222" text-anchor="start" >10</text>
<line x1="494.9" y1="225.96" x2="496.5" y2="225.96" stroke="#8a8a8a" stroke-width="0.6"/>
<text x="497.7" y="228.48" font-size="7.0" fill="#222" text-anchor="start" >20</text>
<line x1="494.9" y1="209.19" x2="496.5" y2="209.19" stroke="#8a8a8a" stroke-width="0.6"/>
<text x="497.7" y="211.71" font-size="7.0" fill="#222" text-anchor="start" >30</text>
<line x1="494.9" y1="192.42" x2="496.5" y2="192.42" stroke="#8a8a8a" stroke-width="0.6"/>
<text x="497.7" y="194.94" font-size="7.0" fill="#222" text-anchor="start" >40</text>
<line x1="494.9" y1="175.65" x2="496.5" y2="175.65" stroke="#8a8a8a" stroke-width="0.6"/>
<text x="497.7" y="178.17" font-size="7.0" fill="#222" text-anchor="start" >50</text>
<line x1="494.9" y1="158.88" x2="496.5" y2="158.88" stroke="#8a8a8a" stroke-width="0.6"/>
<text x="497.7" y="161.4" font-size="7.0" fill="#222" text-anchor="start" >60</text>
<line x1="412.8" y1="262.6" x2="412.8" y2="264.2" stroke="#8a8a8a" stroke-width="0.6"/>
<text x="412.8" y="272.9" font-size="7.0" fill="#222" text-anchor="middle" >0</text>
<line x1="427.02" y1="262.6" x2="427.02" y2="264.2" stroke="#8a8a8a" stroke-width="0.6"/>
<text x="427.02" y="272.9" font-size="7.0" fill="#222" text-anchor="middle" >20</text>
<line x1="441.24" y1="262.6" x2="441.24" y2="264.2" stroke="#8a8a8a" stroke-width="0.6"/>
<text x="441.24" y="272.9" font-size="7.0" fill="#222" text-anchor="middle" >40</text>
<line x1="455.46" y1="262.6" x2="455.46" y2="264.2" stroke="#8a8a8a" stroke-width="0.6"/>
<text x="455.46" y="272.9" font-size="7.0" fill="#222" text-anchor="middle" >60</text>
<line x1="469.68" y1="262.6" x2="469.68" y2="264.2" stroke="#8a8a8a" stroke-width="0.6"/>
<text x="469.68" y="272.9" font-size="7.0" fill="#222" text-anchor="middle" >80</text>
<line x1="483.9" y1="262.6" x2="483.9" y2="264.2" stroke="#8a8a8a" stroke-width="0.6"/>
<text x="483.9" y="272.9" font-size="7.0" fill="#222" text-anchor="middle" >100</text>
<text x="449.9" y="284.2" font-size="6.6" fill="#222" text-anchor="middle" >Days on therapy</text>
<text x="384.4" y="210.1" font-size="6.45" fill="#222" text-anchor="middle" dominant-baseline="central" transform="rotate(-90 384.4 210.1)"><tspan font-style="italic">ERBB2</tspan> copy number in cfDNA</text>
<text x="516.6" y="210.8" font-size="6.6" fill="#222" text-anchor="middle" dominant-baseline="central" transform="rotate(-90 516.6 210.8)">EGFR copy number</text>
<polyline points="429.5,161.4 435.8,161.4" fill="none" stroke="#e07878" stroke-width="0.7" stroke-linejoin="round" stroke-linecap="butt"/>
<polyline points="429.5,167.7 435.8,167.7" fill="none" stroke="#2f3070" stroke-width="0.7" stroke-dasharray="0.8,0.8" stroke-linejoin="round" stroke-linecap="butt"/>
<circle cx="432.6" cy="167.7" r="0.6" fill="#2f3070"/>
<text x="438" y="163.3" font-size="5.4" fill="#222"><tspan font-style="italic">ERBB2</tspan> copy number</text>
<text x="438" y="169.6" font-size="5.4" fill="#222"><tspan font-style="italic">EGFR</tspan> copy number</text>
<path d="M407.5,250.7 Q440,242 453,241.3 T476.6,239 L492.4,240" fill="none" stroke="#e06464" stroke-width="0.8"/>
<circle cx="407.5" cy="250.7" r="0.55" fill="#e06464"/>
<circle cx="453" cy="241.3" r="0.55" fill="#e06464"/>
<circle cx="476.6" cy="239" r="0.55" fill="#e06464"/>
<circle cx="492.4" cy="240" r="0.55" fill="#e06464"/>
<polyline points="408.1,161.4 452.4,253.8 476.6,250.1 492.4,252.6" fill="none" stroke="#5a5a6a" stroke-width="0.85" stroke-dasharray="0.1,2.0" stroke-linejoin="round" stroke-linecap="round"/>
<circle cx="408.1" cy="161.4" r="0.85" fill="#333"/>
<circle cx="452.4" cy="253.8" r="0.85" fill="#333"/>
<circle cx="476.6" cy="250.1" r="0.85" fill="#333"/>
<circle cx="492.4" cy="252.6" r="0.85" fill="#333"/>
</g>
<g id="panelF">
<text x="9" y="313" font-size="10.2" fill="#222" text-anchor="start" font-weight="bold" fill="#111" style="stroke:#111;stroke-width:0.45px">F</text>
<text x="80.5" y="311.2" font-size="8.8" fill="#222" text-anchor="middle" >Pre</text>
<text x="157.3" y="311.2" font-size="8.8" fill="#222" text-anchor="middle" >Post</text>
<text x="40.6" y="358" font-size="8.9" fill="#222" text-anchor="end" >CD3</text>
<text x="40.6" y="418.5" font-size="8.9" fill="#222" text-anchor="end" >NKp46</text>
<text x="40.6" y="481.1" font-size="8.9" fill="#222" text-anchor="end" >PD-L1</text>
<clipPath id="clipF00"><rect x="43.3" y="314.5" width="74.4" height="61.4"/></clipPath>
<g clip-path="url(#clipF00)">
<rect x="43.3" y="314.5" width="74.4" height="61.4" fill="#9aa8d8"/>
<rect x="43.3" y="314.5" width="74.4" height="61.4" fill="#000" filter="url(#fw2)" opacity="0.35"/>
<rect x="43.3" y="314.5" width="74.4" height="61.4" fill="#000" filter="url(#fd2)" opacity="0.2"/>
<rect x="43.3" y="314.5" width="74.4" height="61.4" fill="#000" filter="url(#fw1)" opacity="0.45"/>
<rect x="43.3" y="314.5" width="74.4" height="61.4" fill="#000" filter="url(#fd1)" opacity="0.55"/>
</g>
<clipPath id="clipF01"><rect x="119.8" y="314.5" width="75.1" height="61.4"/></clipPath>
<g clip-path="url(#clipF01)">
<rect x="119.8" y="314.5" width="75.1" height="61.4" fill="#abc0e2"/>
<path d="M119.8,314.5 L194.9,314.5 L194.9,334 L186,332 L178,329 L170,327 L164,326 L158,323 L152,322 L146,323 L140,326 L133,330 L126,332 L119.8,333 Z" fill="#cbd7ee"/>
<path d="M146,314.5 L166,314.5 L165,320 L160,323 L152,322 L146,320 Z" fill="#e2e9f5" opacity="0.9"/>
<rect x="119.8" y="314.5" width="75.1" height="61.4" fill="#000" filter="url(#fw2)" opacity="0.35"/>
<rect x="119.8" y="314.5" width="75.1" height="61.4" fill="#000" filter="url(#fd2)" opacity="0.2"/>
<rect x="119.8" y="314.5" width="75.1" height="61.4" fill="#000" filter="url(#fw1)" opacity="0.55"/>
<rect x="119.8" y="314.5" width="75.1" height="61.4" fill="#000" filter="url(#fd1)" opacity="0.45"/>
<path d="M119.8,334 L124,332 L128,334 L133,331 L138,328 L142,325 L146,323.5 L151,322 L156,323.5 L161,325 L166,327 L172,327.5 L178,329.5 L184,331 L189,333.5 L194.9,334.5 L194.9,351 L191,349 L188,346 L184,343.5 L179,341 L174,339.5 L169,337 L165,335.5 L160,334 L155,333.5 L150,334 L146,335.5 L142,338 L138,341 L134,342.5 L130,344.5 L126,345 L122,344 L119.8,345 Z" fill="#7a2c0c" filter="url(#fb1)" opacity="0.92"/>
<path d="M144,325 L152,322.5 L160,324.5 L166,327.5 L174,329 L181,331 L188,334 L194.9,336 L194.9,350 L189,346 L183,342 L176,339 L168,336 L160,334 L152,334 L145,335.5 Z" fill="#7a2c0c" filter="url(#fb2)" opacity="0.9"/>
<path d="M119.8,335 L124,333.5 L127,336 L126,343 L122,344 L119.8,344 Z" fill="#7a2c0c" filter="url(#fb2)" opacity="0.9"/>
<path d="M122,318 L132,316 L138,320 L130,324 L124,323 Z" fill="#8a3a12" filter="url(#fb1)" opacity="0.35"/>
<path d="M145,316 L156,315 L158,321 L148,322 Z" fill="#8a3a12" filter="url(#fb1)" opacity="0.35"/>
<path d="M162,314.5 L178,314.5 L177,320 L170,322 L164,320 Z" fill="#7a2c0c" filter="url(#fb1)"/>
<path d="M163,370 L168,367 L175,368 L176,375.9 L163,375.9 Z" fill="#7a2c0c" filter="url(#fb1)"/>
<path d="M136,343 L144,343 L146,356 L140,360 L136,352 Z" fill="#7a2c0c" filter="url(#fb1)" opacity="0.6"/>
<path d="M188,314.5 L194.9,314.5 L194.9,320 L189,318 Z" fill="#7a2c0c" filter="url(#fb1)" opacity="0.7"/>
</g>
<clipPath id="clipF10"><rect x="43.3" y="378.3" width="74.4" height="60.9"/></clipPath>
<g clip-path="url(#clipF10)">
<rect x="43.3" y="378.3" width="74.4" height="60.9" fill="#858ec6"/>
<rect x="43.3" y="378.3" width="74.4" height="60.9" fill="#000" filter="url(#fw2)" opacity="0.35"/>
<rect x="43.3" y="378.3" width="74.4" height="60.9" fill="#000" filter="url(#fd2)" opacity="0.2"/>
<rect x="43.3" y="378.3" width="74.4" height="60.9" fill="#000" filter="url(#fw1)" opacity="0.5"/>
<rect x="43.3" y="378.3" width="74.4" height="60.9" fill="#000" filter="url(#fd3)" opacity="0.6"/>
</g>
<clipPath id="clipF11"><rect x="119.8" y="378.3" width="75.1" height="60.9"/></clipPath>
<g clip-path="url(#clipF11)">
<rect x="119.8" y="378.3" width="75.1" height="60.9" fill="#7c8fcb"/>
<path d="M140,392 L152,388 L166,390 L176,398 L172,412 L158,416 L145,410 L138,400 Z" fill="#4e66b0" opacity="0.35"/>
<rect x="119.8" y="378.3" width="75.1" height="60.9" fill="#000" filter="url(#fw2)" opacity="0.35"/>
<rect x="119.8" y="378.3" width="75.1" height="60.9" fill="#000" filter="url(#fd2)" opacity="0.2"/>
<rect x="119.8" y="378.3" width="75.1" height="60.9" fill="#000" filter="url(#fw1)" opacity="0.5"/>
<rect x="119.8" y="378.3" width="75.1" height="60.9" fill="#000" filter="url(#fd1)" opacity="0.5"/>
<path d="M119.8,378.3 L194.9,378.3 L194.9,388.5 L188,387 L180,385.5 L172,384.2 L164,383.5 L156,383.2 L150,383.5 L148,386 L146.5,390 L144.5,391 L142.5,387 L140,383.8 L136,383.5 L133,384 L132,389 L130.5,395 L128.5,396.5 L127,391 L126,385 L123,383.5 L119.8,383.5 Z" fill="#c9bdcf" opacity="0.8"/>
<path d="M150,383.5 L156,383.2 L164,383.5 L172,384.2 L180,385.5 L188,387 L194.9,388.5 L194.9,390.5 L188,389 L180,387.5 L172,386.2 L164,385.5 L156,385.2 L151,385.5 Z" fill="#5d70b8" opacity="0.5"/>
</g>
<clipPath id="clipF20"><rect x="43.3" y="441.9" width="74.4" height="61.4"/></clipPath>
<g clip-path="url(#clipF20)">
<rect x="43.3" y="441.9" width="74.4" height="61.4" fill="#aaaabd"/>
<path d="M97,441.9 L103,441.9 L106,455 L109.5,470 L107.5,482 L103.5,495 L101.5,503.3 L96.5,503.3 L99,493 L103,481 L105,470 L101.5,456 Z" fill="#e4e2e8" opacity="0.9"/>
<path d="M46,460 L50,458 L52,475 L50,490 L47,490 L48,475 Z" fill="#dcdae2" opacity="0.7"/>
<path d="M80,468 L92,462 L96,478 L90,490 L80,486 Z" fill="#c7b0a8" opacity="0.5"/>
<path d="M50,445 L70,445 L72,458 L58,462 L50,456 Z" fill="#9aa2c6" opacity="0.5"/>
<rect x="43.3" y="441.9" width="74.4" height="61.4" fill="#000" filter="url(#fw2)" opacity="0.35"/>
<rect x="43.3" y="441.9" width="74.4" height="61.4" fill="#000" filter="url(#ft1)" opacity="0.45"/>
<rect x="43.3" y="441.9" width="74.4" height="61.4" fill="#000" filter="url(#fw1)" opacity="0.55"/>
<rect x="43.3" y="441.9" width="74.4" height="61.4" fill="#000" filter="url(#fd3)" opacity="0.45"/>
</g>
<clipPath id="clipF21"><rect x="119.8" y="441.9" width="75.1" height="61.4"/></clipPath>
<g clip-path="url(#clipF21)">
<rect x="119.8" y="441.9" width="75.1" height="61.4" fill="#b3b1da"/>
<path d="M119.8,478 L132,474 L142,484 L140,503.3 L119.8,503.3 Z" fill="#7d8fd0" opacity="0.75"/>
<path d="M140,444 L162,443 L166,458 L150,462 L140,455 Z" fill="#8396d2" opacity="0.6"/>
<path d="M119.8,455 L128,452 L132,462 L124,468 L119.8,466 Z" fill="#8a9ad2" opacity="0.5"/>
<path d="M165,470 L185,462 L190,490 L172,495 Z" fill="#b8b0dc" opacity="0.4"/>
<rect x="119.8" y="441.9" width="75.1" height="61.4" fill="#000" filter="url(#fw2)" opacity="0.35"/>
<rect x="119.8" y="441.9" width="75.1" height="61.4" fill="#000" filter="url(#ft1)" opacity="0.45"/>
<rect x="119.8" y="441.9" width="75.1" height="61.4" fill="#000" filter="url(#fp1)" opacity="0.5"/>
<rect x="119.8" y="441.9" width="75.1" height="61.4" fill="#000" filter="url(#fw1)" opacity="0.55"/>
<rect x="119.8" y="441.9" width="75.1" height="61.4" fill="#000" filter="url(#fd1)" opacity="0.4"/>
</g>
</g>
<g id="panelG">
<text x="233.6" y="313" font-size="10.2" fill="#222" text-anchor="start" font-weight="bold" fill="#111" style="stroke:#111;stroke-width:0.45px">G</text>
<radialGradient id="rg" gradientUnits="userSpaceOnUse" cx="337.4" cy="407.0" r="74"><stop offset="0" stop-color="#e32228"/><stop offset="0.15" stop-color="#e03238"/><stop offset="0.3" stop-color="#cf4a5a"/><stop offset="0.48" stop-color="#b87585"/><stop offset="0.62" stop-color="#aa8a9e"/><stop offset="0.73" stop-color="#a096ae"/><stop offset="0.86" stop-color="#94a2bc"/><stop offset="1" stop-color="#8aaac4"/></radialGradient>
<ellipse cx="337.4" cy="407.0" rx="59.4" ry="72.4" fill="url(#rg)"/>
<ellipse cx="337.4" cy="407.0" rx="10" ry="12.25" fill="none" stroke="#ffdde2" stroke-opacity="0.75" stroke-width="0.9"/>
<ellipse cx="337.4" cy="407.0" rx="20" ry="24.5" fill="none" stroke="#ffdde2" stroke-opacity="0.75" stroke-width="0.9"/>
<ellipse cx="337.4" cy="407.0" rx="30" ry="36.75" fill="none" stroke="#ffdde2" stroke-opacity="0.75" stroke-width="0.9"/>
<ellipse cx="337.4" cy="407.0" rx="40" ry="49" fill="none" stroke="#ffdde2" stroke-opacity="0.75" stroke-width="0.9"/>
<ellipse cx="337.4" cy="407.0" rx="50" ry="61.25" fill="none" stroke="#ffdde2" stroke-opacity="0.75" stroke-width="0.9"/>
<line x1="337.4" y1="334.6" x2="337.4" y2="479.4" stroke="#ffd6da" stroke-opacity="0.75" stroke-width="0.9"/>
<line x1="386.06" y1="365.47" x2="288.74" y2="448.53" stroke="#ffd6da" stroke-opacity="0.75" stroke-width="0.9"/>
<line x1="295.4" y1="355.81" x2="379.4" y2="458.19" stroke="#ffd6da" stroke-opacity="0.75" stroke-width="0.9"/>
<polygon points="336.6,346.4 369.3,379.4 371.9,448.6 337,467.8 297.6,441.6 325.6,391" fill="none" stroke="#45303f" stroke-width="0.7" stroke-linejoin="round"/>
<text x="267" y="328.4" font-size="7.6" fill="#222" text-anchor="middle" >Combination</text>
<text x="267" y="337.4" font-size="7.6" fill="#222" text-anchor="middle" >therapy</text>
<text x="267" y="346.5" font-size="7.6" fill="#222" text-anchor="middle" >(chemotherapy and/</text>
<text x="267" y="355.9" font-size="7.6" fill="#222" text-anchor="middle" >or targeted)</text>
<text x="340.7" y="319.7" font-size="7.6" fill="#222" text-anchor="middle" >Low concurrent molecular</text>
<text x="340.7" y="329" font-size="7.6" fill="#222" text-anchor="middle" >events (vs. high)</text>
<text x="251.5" y="456.5" font-size="7.6" fill="#222" text-anchor="middle" >Monoclonal antibody</text>
<text x="251.5" y="465" font-size="7.6" fill="#222" text-anchor="middle" >therapy (vs. TKI)</text>
<text x="413.8" y="462.7" font-size="7.6" fill="#222" text-anchor="middle" >High copy number</text>
<text x="413.8" y="472.3" font-size="7.6" fill="#222" text-anchor="middle" >(vs. low copy</text>
<text x="413.8" y="481.2" font-size="7.6" fill="#222" text-anchor="middle" >number)</text>
<text x="338" y="488.9" font-size="7.6" fill="#222" text-anchor="middle" >Homogeneity of EGFR amp</text>
<text x="338" y="498.5" font-size="7.6" fill="#222" text-anchor="middle" >within patient (vs.</text>
<text x="338" y="508" font-size="7.6" fill="#222" text-anchor="middle" >heterogeneity)</text>
<text x="388.7" y="362.7" font-size="7.6" fill="#222" text-anchor="start" >Immune infiltration</text>
</g>
</svg>
</body></html>
